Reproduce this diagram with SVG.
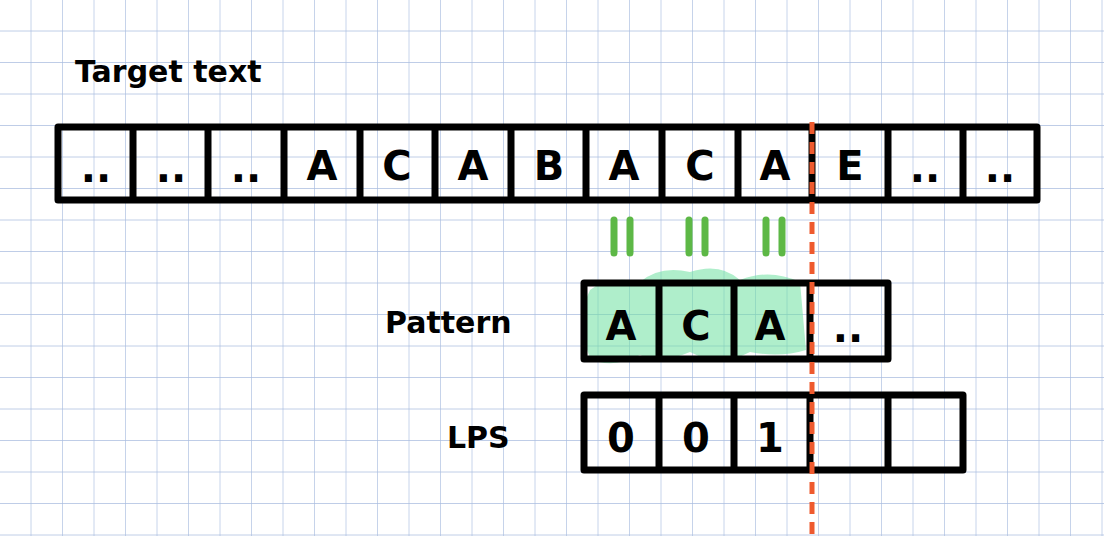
<svg xmlns="http://www.w3.org/2000/svg" width="1104" height="536" viewBox="0 0 1104 536">
<defs>
<pattern id="grid" width="31.5" height="31.5" patternUnits="userSpaceOnUse">
<path d="M31.5 0V31.5M0 31.5H31.5" fill="none" stroke="#a9bde0" stroke-width="1.3"/>
</pattern>
<style>
.box{fill:none;stroke:#000;stroke-width:7;stroke-linejoin:round}
.div{stroke:#000;stroke-width:7}
.t{font-family:"DejaVu Sans",sans-serif;font-weight:bold;fill:#000}
.c{font-size:40px;text-anchor:middle}
.lbl{font-size:30px}
.eq{stroke:#5db846;stroke-width:7;stroke-linecap:round}
.hl{fill:#6ee0a0;opacity:0.55}
</style>
</defs>
<rect width="1104" height="536" fill="#fff"/>
<rect width="1104" height="536" fill="url(#grid)"/>
<text id="title" class="t lbl" x="75" y="82">Target text</text>
<g id="text-row">
<rect class="box" x="58" y="127" width="979" height="73"/>
<path class="div" d="M133 127V200M208 127V200M284 127V200M360 127V200M435 127V200M511 127V200M586 127V200M662 127V200M738 127V200M812 127V200M888 127V200M963 127V200"/>
<g class="t c">
<text x="96" y="182">..</text><text x="171" y="182">..</text><text x="246" y="182">..</text>
<text x="322" y="180">A</text><text x="397" y="180">C</text><text x="473" y="180">A</text><text x="549" y="180">B</text>
<text x="624" y="180">A</text><text x="700" y="180">C</text><text x="775" y="180">A</text><text x="850" y="180">E</text>
<text x="925" y="182">..</text><text x="1000" y="182">..</text>
</g>
</g>
<g id="equals">
<path class="eq" d="M614 220V253M630 220V253M689 220V253M705 220V253M766 220V253M782 220V253"/>
</g>
<g id="highlight">
<path class="hl" d="M590 290Q610 275 640 282Q660 265 690 272Q720 262 740 280Q770 268 800 282L806 350Q780 358 750 352Q720 368 690 352Q660 365 640 355Q610 370 590 358Q575 320 590 290Z"/>
</g>
<text id="pattern-label" class="t lbl" x="385" y="333">Pattern</text>
<g id="pattern-row">
<rect class="box" x="584" y="283" width="304" height="76"/>
<path class="div" d="M659 283V359M734 283V359M810 283V359"/>
<g class="t c">
<text x="621" y="340">A</text><text x="696" y="340">C</text><text x="770" y="340">A</text><text x="848" y="342">..</text>
</g>
</g>
<text id="lps-label" class="t lbl" x="447" y="448">LPS</text>
<g id="lps-row">
<rect class="box" x="584" y="395" width="379" height="75"/>
<path class="div" d="M659 395V470M734 395V470M810 395V470M888 395V470"/>
<g class="t c">
<text x="621" y="452">0</text><text x="696" y="452">0</text><text x="770" y="452">1</text>
</g>
</g>
<g id="connectors">
<line x1="812" y1="122" x2="812" y2="536" stroke="#ee5a2f" stroke-width="5" stroke-dasharray="12 8"/>
</g>
</svg>
